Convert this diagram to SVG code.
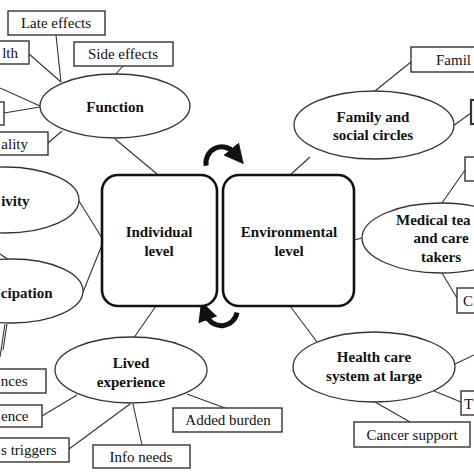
<svg xmlns="http://www.w3.org/2000/svg" width="474" height="474" viewBox="0 0 474 474">
<style>
text{font-family:"Liberation Serif","Times New Roman",serif;font-size:15px;fill:#111}
.b{font-weight:bold;text-anchor:middle}
.r{text-anchor:middle}
.e{text-anchor:end}
.s{text-anchor:start}
.box{fill:#fff;stroke:#333;stroke-width:1.4}
.ell{fill:#fff;stroke:#333;stroke-width:1.3}
.lvl{fill:#fff;stroke:#111;stroke-width:2.6}
.ln{stroke:#333;stroke-width:1.1;fill:none}
.arc{stroke:#111;stroke-width:5;fill:none}
</style>
<defs>
<marker id="ah" markerWidth="4" markerHeight="4" refX="1" refY="2" orient="auto" markerUnits="strokeWidth">
<path d="M0,0 L4,2 L0,4 z" fill="#111"/>
</marker>
</defs>
<rect width="474" height="474" fill="#fff"/>
<g id="connectors">
<line class="ln" x1="56" y1="35" x2="61" y2="82"/>
<line class="ln" x1="29" y1="54" x2="61" y2="82"/>
<line class="ln" x1="0" y1="88" x2="40" y2="106"/>
<line class="ln" x1="4" y1="113" x2="40" y2="107"/>
<line class="ln" x1="48" y1="143" x2="62" y2="131"/>
<line class="ln" x1="123" y1="66" x2="115" y2="75"/>
<line class="ln" x1="115" y1="139" x2="157" y2="174"/>
<line class="ln" x1="79" y1="201" x2="102" y2="238"/>
<line class="ln" x1="83" y1="292" x2="102" y2="245"/>
<line class="ln" x1="0" y1="254" x2="9" y2="260"/>
<line class="ln" x1="7" y1="324" x2="3" y2="350"/>
<line class="ln" x1="5" y1="324" x2="0" y2="357"/>
<line class="ln" x1="133" y1="339" x2="156" y2="306"/>
<line class="ln" x1="42" y1="416" x2="77" y2="395"/>
<line class="ln" x1="69" y1="449" x2="130" y2="404"/>
<line class="ln" x1="133" y1="404" x2="142" y2="445"/>
<line class="ln" x1="187" y1="394" x2="225" y2="408"/>
<line class="ln" x1="411" y1="62" x2="375" y2="91"/>
<line class="ln" x1="453" y1="126" x2="471" y2="113"/>
<line class="ln" x1="290" y1="175" x2="310" y2="157"/>
<line class="ln" x1="354" y1="240" x2="362" y2="238"/>
<line class="ln" x1="465" y1="170" x2="442" y2="203"/>
<line class="ln" x1="442" y1="273" x2="457" y2="298"/>
<line class="ln" x1="290" y1="306" x2="317" y2="342"/>
<line class="ln" x1="455" y1="364" x2="474" y2="355"/>
<line class="ln" x1="434" y1="391" x2="461" y2="402"/>
<line class="ln" x1="375" y1="402" x2="410" y2="422"/>
<path class="arc" d="M206.2,165.8 A16,16 0 0 1 234.3,152.7" marker-end="url(#ah)"/>
<path class="arc" d="M237,312.5 A16,16 0 0 1 206.2,315.2" marker-end="url(#ah)"/>
</g>
<g id="individual"><rect class="lvl" x="102" y="175" width="115" height="131" rx="16"/><text class="b" x="159" y="237">Individual</text><text class="b" x="159" y="256">level</text></g>
<g id="environmental"><rect class="lvl" x="223" y="175" width="131" height="131" rx="16"/><text class="b" x="289" y="237">Environmental</text><text class="b" x="289" y="256">level</text></g>
<g id="function"><ellipse class="ell" cx="115" cy="106" rx="75" ry="32"/><text class="b" x="115" y="112">Function</text></g>
<g id="late-effects"><rect class="box" x="8" y="11" width="97" height="24"/><text class="r" x="56" y="28">Late effects</text></g>
<g id="side-effects"><rect class="box" x="74" y="42" width="99" height="24"/><text class="r" x="123" y="59">Side effects</text></g>
<g id="health"><rect class="box" x="-40" y="41" width="69" height="23"/><text class="e" x="18" y="58">lth</text></g>
<g id="left-box"><rect class="box" x="-60" y="102" width="64" height="23"/></g>
<g id="ality"><rect class="box" x="-40" y="132" width="88" height="23"/><text class="e" x="28" y="149">ality</text></g>
<g id="activity"><ellipse class="ell" cx="5" cy="200" rx="74" ry="33"/><text class="b" x="29.5" y="206" style="text-anchor:end">ivity</text></g>
<g id="participation"><ellipse class="ell" cx="12" cy="291" rx="71" ry="32"/><text class="b" x="52.5" y="298" style="text-anchor:end">cipation</text></g>
<g id="nces"><rect class="box" x="-40" y="369" width="86" height="24"/><text class="e" x="27.5" y="386">nces</text></g>
<g id="ence"><rect class="box" x="-40" y="405" width="82" height="22"/><text class="e" x="28.5" y="421">ence</text></g>
<g id="triggers"><rect class="box" x="-40" y="438" width="109" height="24"/><text class="e" x="56.5" y="455">s triggers</text></g>
<g id="lived"><ellipse class="ell" cx="131" cy="370" rx="76" ry="33"/><text class="b" x="131" y="368">Lived</text><text class="b" x="131" y="387">experience</text></g>
<g id="info-needs"><rect class="box" x="93" y="445" width="97" height="23"/><text class="r" x="141" y="462">Info needs</text></g>
<g id="added-burden"><rect class="box" x="173" y="408" width="109" height="24"/><text class="r" x="228" y="425">Added burden</text></g>
<g id="family"><ellipse class="ell" cx="374" cy="125" rx="80" ry="34"/><text class="b" x="373" y="122">Family and</text><text class="b" x="373" y="140">social circles</text></g>
<g id="famil-box"><rect class="box" x="411" y="47" width="80" height="25"/><text class="s" x="436" y="65">Famil</text></g>
<g id="right-box1"><rect class="box" x="471" y="100" width="20" height="24" style="stroke-width:2.2"/></g>
<g id="medical"><ellipse class="ell" cx="441" cy="238" rx="79" ry="35"/><text class="s" x="396" y="225" style="font-weight:bold">Medical tea</text><text class="b" x="441" y="243">and care</text><text class="b" x="441" y="262">takers</text></g>
<g id="right-box2"><rect class="box" x="465" y="157" width="20" height="24"/></g>
<g id="c-box"><rect class="box" x="457" y="288" width="30" height="25"/><text class="s" x="463" y="306">C</text></g>
<g id="healthcare"><ellipse class="ell" cx="374" cy="367" rx="81" ry="35"/><text class="b" x="374" y="362">Health care</text><text class="b" x="374" y="381">system at large</text></g>
<g id="t-box"><rect class="box" x="461" y="391" width="30" height="24"/><text class="s" x="464" y="409">T</text></g>
<g id="cancer-support"><rect class="box" x="354" y="422" width="116" height="25"/><text class="r" x="412" y="440">Cancer support</text></g>
</svg>
